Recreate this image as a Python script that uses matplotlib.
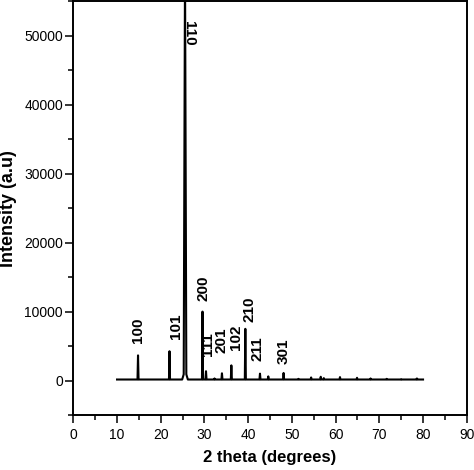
import numpy as np
import matplotlib
matplotlib.use('Agg')
import matplotlib.pyplot as plt
from matplotlib.ticker import MultipleLocator

peak_pos = [14.8, 22.0, 25.55, 29.55, 30.35, 32.3, 34.0, 36.15, 39.35, 42.7, 44.6,
            48.1, 51.5, 54.4, 56.6, 57.3, 61.0, 64.9, 68.0, 71.7, 75.0, 78.6]
peak_int = [3650, 4250, 60000, 10000, 1350, 300, 1050, 2200, 7500, 1000, 600,
            1100, 250, 450, 550, 350, 500, 400, 300, 250, 200, 300]
baseline = 150
start, stop = 10.0, 80.0

# shoulder around the 110 reflection
shoulder_x = [24.9, 25.25, 25.85, 26.2]
shoulder_y = [150, 900, 900, 150]

hkl = ['100', '101', '110', '200', '111', '201', '102', '210', '211', '301']
label_x = [14.7, 23.4, 26.4, 29.7, 30.9, 33.8, 37.1, 40.2, 42.2, 48.2]
label_y = [5500, 6000, 52200, 11600, 3500, 4050, 4500, 8450, 2800, 2450]

# build stick-like profile
xs = [start]
ys = [baseline]
for p, h in zip(peak_pos, peak_int):
    if p == 25.55:
        xs += [shoulder_x[0], shoulder_x[1], p, shoulder_x[2], shoulder_x[3]]
        ys += [shoulder_y[0], shoulder_y[1], h, shoulder_y[2], shoulder_y[3]]
    else:
        xs += [p - 0.12, p, p + 0.12]
        ys += [baseline, h, baseline]
xs.append(stop)
ys.append(baseline)

fam = ['Liberation Sans', 'DejaVu Sans']

fig = plt.figure(figsize=(4.74, 4.70), dpi=100)
ax = fig.add_axes([0.1547, 0.117, 0.830, 0.880])
ax.plot(xs, ys, color='black', lw=1.5)

ax.set_xlim(0, 90)
ax.set_ylim(-5000, 55000)
ax.xaxis.set_major_locator(MultipleLocator(10))
ax.xaxis.set_minor_locator(MultipleLocator(5))
ax.yaxis.set_major_locator(MultipleLocator(10000))
ax.yaxis.set_minor_locator(MultipleLocator(5000))
ax.tick_params(which='major', direction='out', length=6, width=1.1, pad=3)
ax.tick_params(which='minor', direction='out', length=3.6, width=1.1)
ax.tick_params(axis='y', pad=1.5)
for sp in ax.spines.values():
    sp.set_linewidth(1.4)

for lab in ax.get_xticklabels() + ax.get_yticklabels():
    lab.set_family(fam)
    lab.set_fontsize(10)

for t, x, y in zip(hkl, label_x, label_y):
    if t == '110':
        ax.text(x, y, t, rotation=270, ha='center', va='top', fontsize=11,
                fontweight='bold', family=fam)
    else:
        ax.text(x, y, t, rotation=90, ha='center', va='bottom', fontsize=11,
                fontweight='bold', family=fam)

ax.set_xlabel('2 theta (degrees)', fontsize=12, fontweight='bold', family=fam, labelpad=6)
ax.set_ylabel('Intensity (a.u)', fontsize=13, fontweight='bold', family=fam)
ax.yaxis.set_label_coords(-0.143, 0.5)

fig.savefig('out.png', dpi=100)
